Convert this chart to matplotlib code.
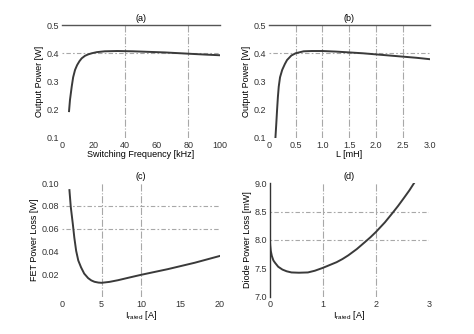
import numpy as np
import matplotlib
matplotlib.use("Agg")
import matplotlib.pyplot as plt

plt.rcParams['font.family'] = ['Liberation Sans', 'DejaVu Sans']
plt.rcParams['mathtext.fontset'] = 'custom'
plt.rcParams['mathtext.rm'] = 'Liberation Sans'
plt.rcParams['mathtext.it'] = 'Liberation Sans'

# (a) output power vs switching frequency
freq_khz = [4.4, 5, 6.1, 7, 8.2, 9.5, 11, 12.4, 14.5, 16.5, 18.8, 22, 27, 35, 45, 55, 65, 75,
            85, 92, 100]
power_a = [0.195, 0.235, 0.282, 0.315, 0.341, 0.358, 0.372, 0.382, 0.391, 0.396, 0.400, 0.404,
           0.407, 0.408, 0.407, 0.405, 0.403, 0.400, 0.397, 0.395, 0.393]

# (b) output power vs inductance
ind_mh = [0.124, 0.14, 0.155, 0.17, 0.186, 0.21, 0.25, 0.3, 0.34, 0.42, 0.5, 0.65, 0.8, 1.0,
          1.25, 1.5, 1.75, 2.0, 2.25, 2.5, 2.75, 3.0]
power_b = [0.10, 0.15, 0.20, 0.245, 0.282, 0.315, 0.341, 0.362, 0.376, 0.392, 0.400, 0.407,
           0.408, 0.408, 0.406, 0.403, 0.400, 0.396, 0.392, 0.388, 0.384, 0.379]

# (c) FET power loss vs rated current
irated_c = [0.93, 1.1, 1.36, 1.55, 1.78, 2.05, 2.4, 2.8, 3.3, 3.7, 4.1, 4.6, 5.0, 6.0, 7.1,
            8.5, 10, 11.7, 13.4, 15.1, 16.8, 18.4, 20]
loss_c = [0.0938, 0.079, 0.064, 0.052, 0.0405, 0.032, 0.026, 0.0205, 0.0165, 0.0145, 0.0133,
          0.0126, 0.0124, 0.0132, 0.0147, 0.017, 0.0194, 0.0219, 0.0244, 0.0272, 0.030, 0.033, 0.036]

# (d) diode power loss vs rated current
irated_d = [0.0, 0.01, 0.02, 0.04, 0.07, 0.1, 0.16, 0.24, 0.32, 0.41, 0.55, 0.72, 0.85, 1.0,
            1.13, 1.26, 1.37, 1.48, 1.64, 1.79, 1.9, 2.0, 2.17, 2.31, 2.42, 2.53, 2.63, 2.72]
loss_d = [8.04, 7.9, 7.81, 7.72, 7.64, 7.6, 7.53, 7.48, 7.45, 7.43, 7.425, 7.43, 7.46, 7.51,
          7.56, 7.61, 7.665, 7.73, 7.84, 7.96, 8.05, 8.14, 8.31, 8.47, 8.60, 8.74, 8.87, 9.0]

fig = plt.figure(figsize=(4.74, 3.34), dpi=100)

line_c = '#3a3a3a'
grid_c = '#a8a8a8'
fs = 6.5

def style(ax, top=False, left=False):
    for s in ['left', 'right', 'bottom', 'top']:
        ax.spines[s].set_visible(False)
    if top:
        ax.spines['top'].set_visible(True)
        ax.spines['top'].set_color('#555555')
        ax.spines['top'].set_linewidth(1.0)
    if left:
        ax.spines['left'].set_visible(True)
        ax.spines['left'].set_color('#333333')
        ax.spines['left'].set_linewidth(1.0)
    ax.tick_params(length=0, labelsize=fs, colors='#333333', pad=2)

def vgrid(ax, xs):
    for x in xs:
        ax.axvline(x, color=grid_c, lw=0.8, ls='-.', zorder=0)

def hgrid(ax, ys):
    for y in ys:
        ax.axhline(y, color=grid_c, lw=0.8, ls=(0, (1.5, 2, 4, 2)), zorder=0)

ax1 = fig.add_axes([0.131, 0.587, 0.333, 0.338])
ax1.plot(freq_khz, power_a, color=line_c, lw=1.4)
ax1.set_xlim(0, 100)
ax1.set_ylim(0.1, 0.5)
ax1.set_xticks([0, 20, 40, 60, 80, 100])
ax1.set_yticks([0.1, 0.2, 0.3, 0.4, 0.5])
ax1.set_yticklabels(['0.1', '0.2', '0.3', '0.4', '0.5'])
vgrid(ax1, [40, 80])
hgrid(ax1, [0.4])
style(ax1, top=True)
ax1.set_title('(a)', fontsize=fs, pad=3)
ax1.set_xlabel('Switching Frequency [kHz]', fontsize=fs, labelpad=0)
ax1.set_ylabel('Output Power [W]', fontsize=fs, labelpad=2)

ax2 = fig.add_axes([0.567, 0.587, 0.340, 0.338])
ax2.plot(ind_mh, power_b, color=line_c, lw=1.4)
ax2.set_xlim(0, 3.0)
ax2.set_ylim(0.1, 0.5)
ax2.set_xticks([0, 0.5, 1.0, 1.5, 2.0, 2.5, 3.0])
ax2.set_xticklabels(['0', '0.5', '1.0', '1.5', '2.0', '2.5', '3.0'])
ax2.set_yticks([0.1, 0.2, 0.3, 0.4, 0.5])
ax2.set_yticklabels(['0.1', '0.2', '0.3', '0.4', '0.5'])
vgrid(ax2, [0.5, 1.0, 1.5, 2.0, 2.5])
hgrid(ax2, [0.4])
style(ax2, top=True)
ax2.set_title('(b)', fontsize=fs, pad=3)
ax2.set_xlabel('L [mH]', fontsize=fs, labelpad=0)
ax2.set_ylabel('Output Power [W]', fontsize=fs, labelpad=2)

ax3 = fig.add_axes([0.131, 0.111, 0.333, 0.341])
ax3.plot(irated_c, loss_c, color=line_c, lw=1.4)
ax3.set_xlim(0, 20)
ax3.set_ylim(0, 0.1)
ax3.set_xticks([0, 5, 10, 15, 20])
ax3.set_yticks([0.02, 0.04, 0.06, 0.08, 0.10])
ax3.set_yticklabels(['0.02', '0.04', '0.06', '0.08', '0.10'])
vgrid(ax3, [5, 10])
hgrid(ax3, [0.06, 0.08])
style(ax3)
ax3.set_title('(c)', fontsize=fs, pad=3)
ax3.set_xlabel(r'I$_{\rm rated}$ [A]', fontsize=fs, labelpad=0)
ax3.set_ylabel('FET Power Loss [W]', fontsize=fs, labelpad=2)

ax4 = fig.add_axes([0.569, 0.111, 0.336, 0.341])
ax4.plot(irated_d, loss_d, color=line_c, lw=1.4)
ax4.set_xlim(0, 3)
ax4.set_ylim(7.0, 9.0)
ax4.set_xticks([0, 1, 2, 3])
ax4.set_yticks([7.0, 7.5, 8.0, 8.5, 9.0])
ax4.set_yticklabels(['7.0', '7.5', '8.0', '8.5', '9.0'])
vgrid(ax4, [1, 2])
hgrid(ax4, [8.0, 8.5])
style(ax4, left=True)
ax4.set_title('(d)', fontsize=fs, pad=3)
ax4.set_xlabel(r'I$_{\rm rated}$ [A]', fontsize=fs, labelpad=0)
ax4.set_ylabel('Diode Power Loss [mW]', fontsize=fs, labelpad=2)

fig.savefig('out.png', dpi=100)
